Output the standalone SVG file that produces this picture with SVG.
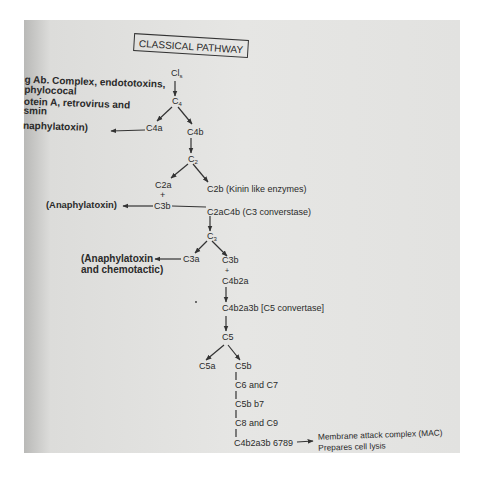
<svg xmlns="http://www.w3.org/2000/svg" width="480" height="480" viewBox="0 0 480 480">
<defs>
<linearGradient id="pg" x1="0" y1="0" x2="1" y2="0">
<stop offset="0" stop-color="#b9b9b7"/>
<stop offset="0.06" stop-color="#dcdcda"/>
<stop offset="0.5" stop-color="#e6e6e4"/>
<stop offset="1" stop-color="#e2e2e0"/>
</linearGradient>
<marker id="ah" viewBox="0 0 10 10" refX="9" refY="5" markerWidth="6" markerHeight="6" orient="auto" markerUnits="userSpaceOnUse">
<path d="M0,1 L10,5 L0,9 z" fill="#333"/>
</marker>
</defs>
<style>
text{font-family:"Liberation Sans",Arial,sans-serif;font-size:9px;fill:#2a2a2a}
.b{font-weight:bold;font-size:10px}
.s{font-size:6px}
.ln{stroke:#333;stroke-width:1.2;fill:none}
.ar{stroke:#333;stroke-width:1.2;fill:none;marker-end:url(#ah)}
</style>
<rect width="480" height="480" fill="#ffffff"/>
<rect x="24" y="20" width="436" height="433" fill="url(#pg)"/>

<g id="title" transform="rotate(3.5 190 46)">
<rect x="134" y="37" width="114" height="17" fill="none" stroke="#333" stroke-width="1"/>
<text x="139" y="50" style="font-size:10px">CLASSICAL PATHWAY</text>
</g>

<g id="sources" transform="rotate(2 90 100)">
<text x="24" y="85" class="b">g Ab. Complex, endototoxins,</text>
<text x="24" y="95" class="b">phylococal</text>
<text x="24" y="107" class="b">otein A, retrovirus and</text>
<text x="24" y="116" class="b">smin</text>
<text x="24" y="131" class="b">naphylatoxin)</text>
</g>

<g id="connectors">
<line class="ar" x1="175" y1="81" x2="175" y2="96"/>
<line class="ar" x1="172" y1="107" x2="157" y2="121"/>
<line class="ar" x1="178" y1="107" x2="192" y2="124"/>
<line class="ar" x1="145" y1="130" x2="111" y2="131"/>
<line class="ar" x1="191" y1="138" x2="191" y2="153"/>
<line class="ar" x1="188" y1="164" x2="171" y2="178"/>
<line class="ar" x1="193" y1="164" x2="208" y2="182"/>
<line class="ar" x1="153" y1="206" x2="123" y2="206"/>
<line class="ln" x1="172" y1="206" x2="206" y2="207"/>
<line class="ar" x1="210" y1="216" x2="210" y2="231"/>
<line class="ar" x1="207" y1="241" x2="195" y2="253"/>
<line class="ar" x1="212" y1="241" x2="227" y2="256"/>
<line class="ar" x1="181" y1="259" x2="155" y2="259"/>
<line class="ar" x1="226" y1="287" x2="226" y2="302"/>
<line class="ar" x1="226" y1="316" x2="226" y2="331"/>
<line class="ar" x1="224" y1="345" x2="206" y2="360"/>
<line class="ar" x1="228" y1="345" x2="240" y2="360"/>
<line class="ln" x1="236" y1="372" x2="236" y2="380"/>
<line class="ln" x1="236" y1="391" x2="236" y2="399"/>
<line class="ln" x1="236" y1="410" x2="236" y2="418"/>
<line class="ln" x1="236" y1="429" x2="236" y2="437"/>
<line class="ar" x1="297" y1="442" x2="313" y2="441"/>
</g>

<g id="Cl"><text x="171" y="76">Cl<tspan class="s" dy="2">s</tspan></text></g>
<g id="C4"><text x="172" y="104">C<tspan class="s" dy="2">4</tspan></text></g>
<g id="C4a"><text x="146" y="131">C4a</text></g>
<g id="C4b"><text x="187" y="135">C4b</text></g>
<g id="C2"><text x="188" y="162">C<tspan class="s" dy="2">2</tspan></text></g>
<g id="C2a"><text x="155" y="188">C2a</text><text x="160" y="198">+</text></g>
<g id="C2b"><text x="207" y="192">C2b (Kinin like enzymes)</text></g>
<g id="C3b1"><text x="154" y="209">C3b</text></g>
<g id="anaphy1"><text x="46" y="208" class="b" style="font-size:9.4px">(Anaphylatoxin)</text></g>
<g id="C2aC4b"><text x="207" y="215">C2aC4b (C3 converstase)</text></g>
<g id="C3"><text x="207" y="239">C<tspan class="s" dy="2">3</tspan></text></g>
<g id="anaphy2"><text x="81" y="262" class="b">(Anaphylatoxin</text><text x="81" y="273" class="b">and chemotactic)</text></g>
<g id="C3a"><text x="183" y="262">C3a</text></g>
<g id="C3b2"><text x="222" y="263">C3b</text><text x="225" y="273" style="font-size:7px">+</text></g>
<g id="C4b2a"><text x="222" y="284">C4b2a</text></g>
<circle cx="196" cy="302" r="0.9" fill="#333"/>
<g id="C5conv"><text x="222" y="311">C4b2a3b [C5 convertase]</text></g>
<g id="C5"><text x="222" y="340">C5</text></g>
<g id="C5a"><text x="199" y="369">C5a</text></g>
<g id="C5b"><text x="235" y="369">C5b</text></g>
<g id="C6C7"><text x="235" y="388">C6 and C7</text></g>
<g id="C5bb7"><text x="235" y="407">C5b b7</text></g>
<g id="C8C9"><text x="235" y="426">C8 and C9</text></g>
<g id="C6789"><text x="234" y="446">C4b2a3b 6789</text></g>
<g id="MAC" transform="rotate(-2 370 440)"><text x="318" y="438" style="font-size:8.4px">Membrane attack complex (MAC)</text><text x="318" y="449" style="font-size:8.4px">Prepares cell lysis</text></g>
</svg>
